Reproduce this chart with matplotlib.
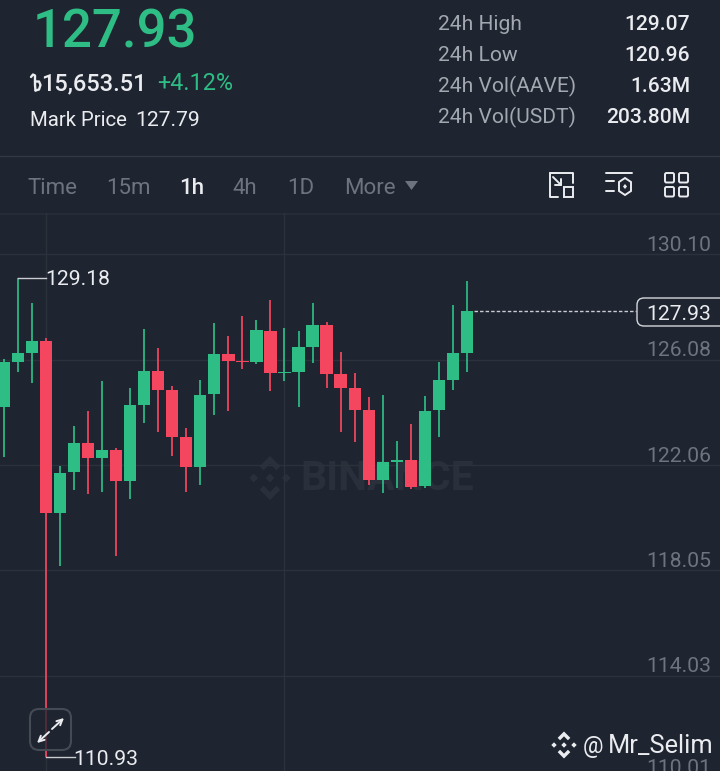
import matplotlib
matplotlib.use('Agg')
import matplotlib.pyplot as plt
from matplotlib.patches import FancyBboxPatch, Rectangle, Polygon

plt.rcParams['font.family'] = ['Roboto', 'DejaVu Sans']

BG = '#1e2430'
GRID = '#2c323c'
GREEN = '#2ebd85'
RED = '#f4475f'
WHITE = '#eaecef'
GREY = '#a3a8b0'
DIM = '#6d747f'
MARK = '#2a303b'

opens = [124.26, 125.97, 126.33, 126.78, 120.24, 121.79, 122.91, 122.32, 122.62, 121.45,
         124.35, 125.65, 124.92, 123.13, 122.00, 124.75, 126.29, 126.02, 126.00, 127.17,
         125.57, 125.62, 126.54, 127.41, 125.52, 125.01, 124.14, 121.49, 122.17, 122.26,
         121.25, 124.14, 125.31, 126.33]
closes = [125.97, 126.33, 126.78, 120.22, 121.77, 122.90, 122.32, 122.62, 121.45, 124.33,
          125.65, 124.92, 123.13, 122.00, 124.73, 126.29, 126.02, 125.97, 127.19, 125.55,
          125.62, 126.54, 127.41, 125.53, 125.01, 124.14, 121.49, 122.17, 122.24, 121.23,
          124.12, 125.30, 126.33, 127.93]
highs = [126.09, 129.18, 128.22, 126.89, 122.02, 123.55, 124.12, 125.26, 122.70, 124.98,
         127.23, 126.51, 125.07, 123.46, 125.30, 127.46, 126.98, 127.75, 127.59, 128.35,
         127.27, 127.17, 128.22, 127.52, 126.35, 125.58, 124.66, 124.73, 122.99, 123.61,
         124.69, 126.00, 128.16, 129.07]
lows = [122.38, 125.61, 125.17, 110.93, 118.21, 121.11, 120.96, 121.04, 118.59, 120.75,
        123.65, 123.33, 122.41, 121.04, 121.30, 123.95, 124.12, 125.70, 125.90, 124.88,
        125.26, 124.28, 125.94, 125.01, 123.33, 122.95, 121.30, 120.98, 121.20, 121.13,
        121.17, 123.14, 124.92, 125.61]
price_ticks = [130.10, 126.08, 122.06, 118.05, 114.03]
stats_labels = ['24h High', '24h Low', '24h Vol(AAVE)', '24h Vol(USDT)']
stats_values = ['129.07', '120.96', '1.63M', '203.80M']
intervals = ['Time', '15m', '1h', '4h', '1D', 'More']

fig = plt.figure(figsize=(7.2, 7.71), dpi=100, facecolor=BG)


def px_axes(zorder):
    a = fig.add_axes([0, 0, 1, 1], zorder=zorder)
    a.set_xlim(0, 720)
    a.set_ylim(771, 0)
    a.axis('off')
    return a


def logo(a, cx, cy, r, color):
    top = [(0, -1), (0.47, -0.53), (0.29, -0.35), (0, -0.64), (-0.29, -0.35), (-0.47, -0.53)]
    side = [(0.2, 0), (0, 0.2), (-0.2, 0), (0, -0.2)]
    shapes = [top, [(x, -y) for x, y in top], side,
              [(x + 0.74, y) for x, y in side], [(x - 0.74, y) for x, y in side]]
    for s in shapes:
        a.add_patch(Polygon([(cx + x * r, cy + y * r) for x, y in s], closed=True, fc=color, ec='none'))


back = px_axes(0)
ui = px_axes(2)

# candles, 14 px apart, first one at x=3.7
ax = fig.add_axes([0, 0, 1, 558 / 771], zorder=1)
ax.patch.set_alpha(0)
ax.set_xlim(-3.7 / 14.04, 716.3 / 14.04)
ax.set_ylim(110.404, 131.661)
ax.axis('off')

for p in price_ticks:
    ax.axhline(p, color=GRID, lw=1, zorder=1)
    ax.text(50.38, p + 0.34, '%.2f' % p, color=DIM, fontsize=15.2,
            ha='right', va='center', zorder=5)
ax.text(50.38, 110.5, '110.01', color=DIM, fontsize=15.2, ha='right', va='center', zorder=5)
ax.axvline(3, color=GRID, lw=1, zorder=1)
ax.axvline(20, color=GRID, lw=1, zorder=1)

xs = list(range(len(opens)))
colors = [GREEN if c >= o else RED for o, c in zip(opens, closes)]
ax.vlines(xs, lows, highs, colors=colors, lw=1.25, zorder=3)
for x, o, c, col in zip(xs, opens, closes, colors):
    b = min(o, c)
    h = max(abs(c - o), 0.05)
    ax.bar(x, h, bottom=b, width=0.88, color=col, linewidth=0, zorder=4)

# high / low markers
ax.plot([1, 3.0], [129.18, 129.18], color='#c9ccd1', lw=1, zorder=5)
ax.text(2.95, 129.13, '129.18', color=WHITE, fontsize=15.2, va='center', zorder=6)
ax.plot([3, 5.05], [110.93, 110.93], color='#c9ccd1', lw=1, zorder=5)
ax.text(4.95, 110.84, '110.93', color=WHITE, fontsize=15.2, va='center', zorder=6)

# last price line and tag
ax.plot([33.5, 45], [127.93, 127.93], color='#c9ccd1', lw=1, ls=(0, (2.5, 1.5)), zorder=5)
ui.add_patch(FancyBboxPatch((637, 298), 100, 28, boxstyle='round,pad=0,rounding_size=7',
                            fc=BG, ec='#d5d8dc', lw=1))
ui.text(711, 314, '127.93', color=WHITE, fontsize=15.2, ha='right', va='center')

# watermark
logo(back, 270, 478, 22, MARK)
back.text(300, 478.5, 'BINANCE', color=MARK, fontsize=29.5, fontweight='bold', va='center')

# header
ui.text(32.5, 33.5, '127.93', color=GREEN, fontsize=38, fontweight='medium', va='center')

# no installed font has the taka sign, so it is stroked by hand
ui.plot([31, 33, 35, 35, 35.5], [77, 74.5, 75.5, 85, 90.5], color=WHITE, lw=1.7, solid_capstyle='round')
ui.plot([35, 39, 40.5, 39, 35.5], [81.5, 81.5, 85, 89.5, 90.5], color=WHITE, lw=1.7, solid_capstyle='round')
ui.text(41, 84, '15,653.51', color=WHITE, fontsize=17, fontweight='medium', va='center')
ui.text(157, 84, '+4.12%', color=GREEN, fontsize=16.8, va='center')
ui.text(30, 121, 'Mark Price', color=WHITE, fontsize=14.7, va='center')
ui.text(135.5, 121, '127.79', color=WHITE, fontsize=15.2, va='center')

for y, lab, val in zip([24.5, 55.5, 86.5, 117.5], stats_labels, stats_values):
    ui.text(438, y, lab, color=GREY, fontsize=15.1, va='center')
    ui.text(690, y, val, color=WHITE, fontsize=15.1, fontweight='medium', ha='right', va='center')

back.plot([0, 720], [156, 156], color='#333944', lw=1)
back.plot([0, 720], [213.5, 213.5], color='#282e39', lw=1.2)

# interval row
for x, lab in zip([27, 106, 179, 232, 287, 344], intervals):
    ui.text(x, 188.5, lab, color=WHITE if lab == '1h' else DIM, fontsize=16,
            fontweight='medium' if lab == '1h' else 'normal', va='center')
ui.add_patch(Polygon([(405, 181), (418, 181), (411.5, 190)], closed=True, fc=DIM, ec='none'))

# toolbar icons
icon = dict(color=WHITE, lw=1.4, solid_capstyle='round')
ui.plot([558, 550, 550, 558], [173, 173, 197, 197], **icon)
ui.plot([550, 573, 573], [173, 173, 183], **icon)
ui.plot([553, 561], [177, 185], **icon)
ui.plot([561, 561, 555], [179, 185, 185], **icon)
ui.add_patch(Rectangle((564, 187), 9, 9.5, fc='none', ec=WHITE, lw=1.4))

ui.plot([606, 632], [173, 173], **icon)
ui.plot([606, 614], [181, 181], **icon)
ui.plot([606, 614], [191, 191], **icon)
ui.add_patch(Polygon([(625, 178), (631, 182), (631, 191), (625, 195), (619, 191), (619, 182)],
                     closed=True, fc='none', ec=WHITE, lw=1.4))
ui.add_patch(Polygon([(625, 184), (627, 186.5), (625, 189), (623, 186.5)], closed=True, fc=WHITE, ec='none'))

for ix in (665, 679):
    for iy in (173, 187):
        ui.add_patch(FancyBboxPatch((ix, iy), 9, 9.5, boxstyle='round,pad=0,rounding_size=1.5',
                                    fc='none', ec=WHITE, lw=1.4))

# expand button
ui.add_patch(FancyBboxPatch((30, 709), 41, 41, boxstyle='round,pad=0,rounding_size=9',
                            fc=BG, alpha=0.75, ec='none'))
ui.add_patch(FancyBboxPatch((30, 709), 41, 41, boxstyle='round,pad=0,rounding_size=9',
                            fc='none', ec='#454b55', lw=1.5))
ui.annotate('', xy=(64, 718), xytext=(52, 729), arrowprops=dict(arrowstyle='->', color=WHITE, lw=1.4, shrinkA=0, shrinkB=0))
ui.annotate('', xy=(37, 743), xytext=(49, 732), arrowprops=dict(arrowstyle='->', color=WHITE, lw=1.4, shrinkA=0, shrinkB=0))

# user mark
logo(ui, 564, 745, 13.5, WHITE)
ui.text(583, 746.5, '@', color=WHITE, fontsize=16.5, va='center')
ui.text(608, 746, 'Mr_Selim', color=WHITE, fontsize=18.3, va='center')

fig.savefig('out.png', dpi=100, facecolor=BG)
